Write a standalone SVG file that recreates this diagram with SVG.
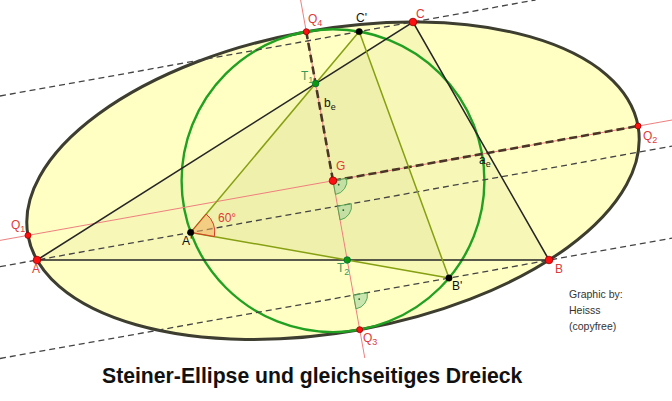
<svg xmlns="http://www.w3.org/2000/svg" width="672" height="401" viewBox="0 0 672 401">
<defs>
<style>
.thin{stroke:#444;stroke-width:1.3;stroke-dasharray:6 4;fill:none}
.axis{stroke:#ef7f7f;stroke-width:1;fill:none}
.thick{stroke:#4a3526;stroke-width:2.6;stroke-dasharray:8 4;fill:none}
.tri{stroke:#262626;stroke-width:1.6;fill:none}
.tri2{stroke:#86a012;stroke-width:1.5;fill:none}
.ra{fill:#9ed29e;fill-opacity:0.55;stroke:#4aa04a;stroke-width:0.9}
.pr{fill:#ff1010;stroke:#900;stroke-width:0.8}
.pk{fill:#000;stroke:#000;stroke-width:0.5}
.pg{fill:#0c9a0c;stroke:#064;stroke-width:0.8}
.lr{font-family:"Liberation Sans",Arial,sans-serif;font-size:12px;fill:#e03a3a}
.lk{font-family:"Liberation Sans",Arial,sans-serif;font-size:12px;fill:#111}
.lg{font-family:"Liberation Sans",Arial,sans-serif;font-size:12px;fill:#3a9a5a}
.sub{font-size:9px}
.cr{font-family:"Liberation Sans",Arial,sans-serif;font-size:10.5px;fill:#333}
</style>
</defs>
<rect width="672" height="401" fill="#ffffff"/>
<g id="ellipse">
<ellipse cx="333" cy="180.7" rx="309.9" ry="151.4" transform="rotate(-10.16 333 180.7)" fill="#ffffc4" stroke="none"/>
</g>
<g id="triangle-ABC-fill">
<polygon points="37,260 549,260 413,22" fill="#8a8a20" fill-opacity="0.07"/>
</g>
<g id="triangle-A1B1C1-fill">
<polygon points="190.7,232.4 449,278 359.2,31.6" fill="#8aa000" fill-opacity="0.07"/>
</g>
<g id="ellipse-outline">
<ellipse cx="333" cy="180.7" rx="309.9" ry="151.4" transform="rotate(-10.16 333 180.7)" fill="none" stroke="#3d3d30" stroke-width="3"/>
</g>
<g id="circle">
<circle cx="333" cy="180.7" r="151.4" fill="none" stroke="#22a022" stroke-width="2.4"/>
</g>
<g id="connectors">
<line class="axis" x1="0" y1="240.4" x2="672" y2="120"/>
<line class="axis" x1="300.6" y1="0" x2="364.8" y2="358"/>
<line class="thin" x1="0" y1="96" x2="535.5" y2="0"/>
<line class="thin" x1="0" y1="266.6" x2="672" y2="146.2"/>
<line class="thin" x1="0" y1="358.5" x2="672" y2="238.1"/>
<line class="thick" x1="333" y1="180.7" x2="638" y2="126"/>
<line class="thick" x1="333" y1="180.7" x2="306.3" y2="31.7"/>
<polygon class="tri" points="37,260 549,260 413,22"/>
<polygon class="tri2" points="190.7,232.4 449,278 359.2,31.6"/>
</g>
<g id="angle-60">
<path d="M190.7,232.4 L206.13,214.01 A24,24 0 0 1 214.34,236.57 Z" fill="#f5b060" fill-opacity="0.55" stroke="#d83a2a" stroke-width="1"/>
<text class="lr" x="218" y="222">60°</text>
</g>
<g id="right-angle-G">
<path class="ra" d="M333,180.7 L346.78,178.23 A14,14 0 0 1 335.47,194.48 Z"/>
<circle cx="338.7" cy="184.7" r="0.9" fill="#1a5a1a"/>
</g>
<g id="right-angle-2">
<path class="ra" d="M337.56,206.13 L351.34,203.66 A14,14 0 0 1 340.03,219.91 Z"/>
<circle cx="343.3" cy="210.1" r="0.9" fill="#1a5a1a"/>
</g>
<g id="right-angle-3">
<path class="ra" d="M353.5,295.1 L367.28,292.63 A14,14 0 0 1 355.97,308.88 Z"/>
<circle cx="359.2" cy="299.1" r="0.9" fill="#1a5a1a"/>
</g>
<g id="node-Q1"><circle class="pr" cx="28" cy="235.4" r="3"/><text class="lr" x="11" y="229">Q<tspan class="sub" dy="3">1</tspan></text></g>
<g id="node-Q2"><circle class="pr" cx="638" cy="126" r="3"/><text class="lr" x="643" y="140">Q<tspan class="sub" dy="3">2</tspan></text></g>
<g id="node-Q3"><circle class="pr" cx="359.7" cy="329.7" r="3"/><text class="lr" x="363" y="342">Q<tspan class="sub" dy="3">3</tspan></text></g>
<g id="node-Q4"><circle class="pr" cx="306.3" cy="31.7" r="3"/><text class="lr" x="308" y="23">Q<tspan class="sub" dy="3">4</tspan></text></g>
<g id="node-A"><circle class="pr" cx="37" cy="260" r="3.8"/><text class="lr" x="32" y="273">A</text></g>
<g id="node-B"><circle class="pr" cx="549" cy="260" r="3.8"/><text class="lr" x="555" y="273">B</text></g>
<g id="node-C"><circle class="pr" cx="413" cy="22" r="3.8"/><text class="lr" x="416" y="18">C</text></g>
<g id="node-G"><circle class="pr" cx="333" cy="180.7" r="3.8"/><text class="lr" x="336" y="170">G</text></g>
<g id="node-A1"><circle class="pk" cx="190.7" cy="232.4" r="3.2"/><text class="lk" x="182" y="245">A'</text></g>
<g id="node-B1"><circle class="pk" cx="449" cy="278" r="3.2"/><text class="lk" x="452" y="290">B'</text></g>
<g id="node-C1"><circle class="pk" cx="359.2" cy="31.6" r="3.2"/><text class="lk" x="356" y="22">C'</text></g>
<g id="node-T1"><circle class="pg" cx="315.6" cy="83.6" r="3.3"/><text class="lg" x="301" y="80">T<tspan class="sub" dy="3">1</tspan></text></g>
<g id="node-T2"><circle class="pg" cx="347.2" cy="260" r="3.3"/><text class="lg" x="337" y="272">T<tspan class="sub" dy="3">2</tspan></text></g>
<g id="label-be"><text class="lk" x="324" y="107">b<tspan class="sub" dy="3">e</tspan></text></g>
<g id="label-ae"><text class="lk" x="479" y="164">a<tspan class="sub" dy="3">e</tspan></text></g>
<g id="credit">
<text class="cr" x="569" y="298">Graphic by:</text>
<text class="cr" x="569" y="314">Heisss</text>
<text class="cr" x="569" y="330">(copyfree)</text>
</g>
<g id="title">
<text x="102" y="383" font-family="'Liberation Sans',Arial,sans-serif" font-weight="bold" font-size="21.2" fill="#111">Steiner-Ellipse und gleichseitiges Dreieck</text>
</g>
</svg>
